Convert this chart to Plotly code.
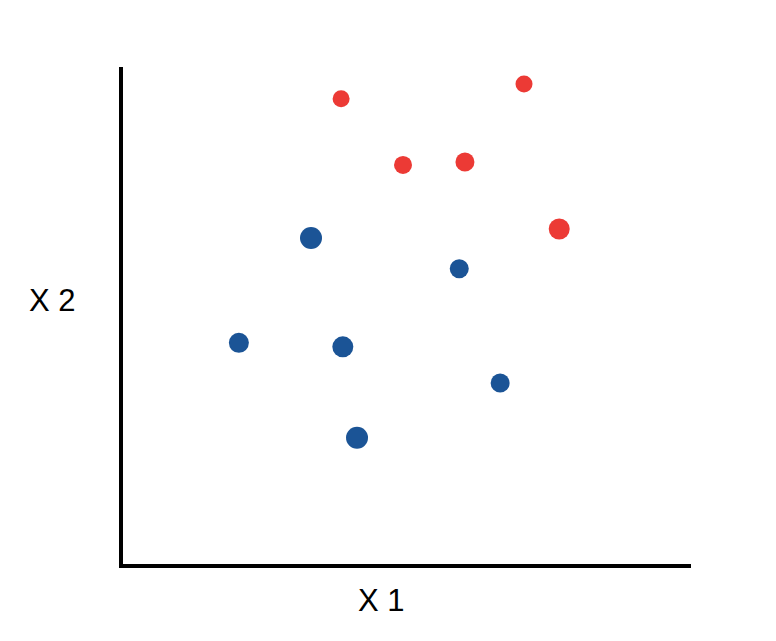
import plotly.graph_objects as go

red_x = [3.84, 7.06, 4.93, 6.02, 7.68]
red_y = [9.36, 9.66, 8.03, 8.09, 6.74]
blue_x = [3.31, 5.92, 2.04, 3.87, 6.64, 4.12]
blue_y = [6.56, 5.94, 4.45, 4.37, 3.64, 2.54]
red_sizes = [17, 17, 18, 19, 21]
blue_sizes = [22, 19, 20, 21, 19, 22]

x_label = "X 1"
y_label = "X 2"

fig = go.Figure()
fig.add_trace(go.Scatter(x=red_x, y=red_y, mode="markers",
                         marker=dict(color="#EC3A35", size=red_sizes, opacity=1, line=dict(width=0)),
                         showlegend=False))
fig.add_trace(go.Scatter(x=blue_x, y=blue_y, mode="markers",
                         marker=dict(color="#1B5496", size=blue_sizes, opacity=1, line=dict(width=0)),
                         showlegend=False))

fig.update_layout(
    width=776, height=641,
    margin=dict(l=115, r=93, t=59, b=85),
    paper_bgcolor="white", plot_bgcolor="white",
    xaxis=dict(range=[0, 10], showgrid=False, zeroline=False, showticklabels=False,
               ticks="", showline=True, linewidth=4, linecolor="black"),
    yaxis=dict(range=[0, 10], showgrid=False, zeroline=False, showticklabels=False,
               ticks="", showline=True, linewidth=4, linecolor="black"),
    annotations=[
        dict(text=x_label, xref="paper", yref="paper", x=(381 - 123) / 568, y=-0.073,
             xanchor="center", yanchor="middle", showarrow=False,
             font=dict(family="Liberation Sans, Arial", size=31, color="black")),
        dict(text=y_label, xref="paper", yref="paper", x=(52 - 123) / 568, y=(564 - 300) / 497,
             xanchor="center", yanchor="middle", showarrow=False,
             font=dict(family="Liberation Sans, Arial", size=31, color="black")),
    ],
)
fig.write_html("out.html")
